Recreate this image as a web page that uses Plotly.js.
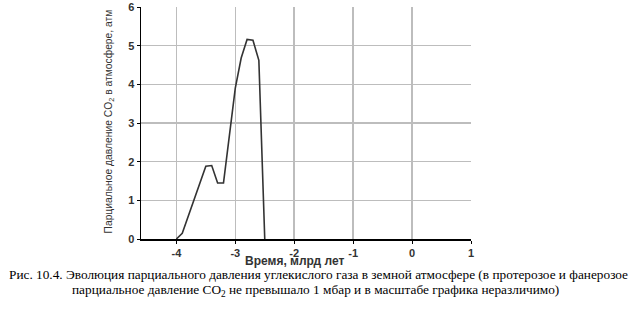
<!DOCTYPE html>
<html>
<head>
<meta charset="utf-8">
<script src="https://cdn.plot.ly/plotly-3.0.1.min.js"></script>
<style>html,body{margin:0;padding:0;background:#fff;}#chart{width:643px;height:313px;}</style>
</head>
<body>
<div id="chart"></div>
<script>
const timeGyr = [-4, -3.9, -3.5, -3.4, -3.3, -3.2, -3.0, -2.9, -2.8, -2.7, -2.6, -2.5];
const pCO2atm = [0, 0.15, 1.88, 1.9, 1.45, 1.45, 3.9, 4.68, 5.16, 5.14, 4.62, 0];
const xTicks = [-4, -3, -2, -1, 0, 1];
const yTicks = [0, 1, 2, 3, 4, 5, 6];
const xTitle = "Время, млрд лет";
const yTitle = "Парциальное давление CO<sub>2</sub> в атмосфере, атм";
const caption1 = "Рис. 10.4. Эволюция парциального давления углекислого газа в земной атмосфере (в протерозое и фанерозое";
const caption2 = "парциальное давление CO<sub>2</sub> не превышало 1 мбар и в масштабе графика неразличимо)";

const sans = "Liberation Sans, Arial, sans-serif";
const serif = "Liberation Serif, Times New Roman, serif";
const tickFont = {family: sans, size: 11, color: "#333", weight: "bold"};
const gridColor = "#bdbdbd";
const L = 141, R = 172, W = 643;
const plotW = W - L - R;

const data = [{
  x: timeGyr, y: pCO2atm, type: "scatter", mode: "lines",
  line: {color: "#333", width: 1.6}, hoverinfo: "skip"
}];

const layout = {
  width: 643, height: 313,
  margin: {l: L, r: R, t: 7, b: 74},
  paper_bgcolor: "#ffffff", plot_bgcolor: "#ffffff",
  showlegend: false,
  xaxis: {
    range: [-4.6, 1], tickmode: "array", tickvals: xTicks, ticktext: xTicks.map(String),
    showgrid: true, gridcolor: gridColor, gridwidth: 1.5,
    zeroline: false, showline: true, linecolor: "#000", linewidth: 1.5,
    ticks: "outside", ticklen: 3, tickcolor: "#000",
    tickfont: tickFont
  },
  yaxis: {
    range: [0, 6], tickmode: "array", tickvals: yTicks, ticktext: yTicks.map(String),
    showgrid: true, gridcolor: gridColor, gridwidth: 1.5,
    zeroline: false, showline: true, linecolor: "#000", linewidth: 1.5,
    ticks: "outside", ticklen: 3, tickcolor: "#000",
    tickfont: tickFont
  },
  annotations: [
    {text: xTitle, xref: "paper", yref: "paper", x: (295 - L) / plotW, y: 0, yshift: -22,
     xanchor: "center", yanchor: "middle", showarrow: false,
     font: {family: sans, size: 12, color: "#333", weight: "bold"}},
    {text: yTitle, xref: "paper", yref: "paper", x: 0, xshift: -32, y: 0.5, yshift: 1.5,
     xanchor: "center", yanchor: "middle", textangle: -90, showarrow: false,
     font: {family: sans, size: 10.3, color: "#333"}},
    {text: caption1, xref: "paper", yref: "paper", x: (318 - L) / plotW, y: 0, yshift: -35,
     xanchor: "center", yanchor: "middle", showarrow: false,
     font: {family: serif, size: 13.3, color: "#000"}},
    {text: caption2, xref: "paper", yref: "paper", x: (315 - L) / plotW, y: 0, yshift: -51,
     xanchor: "center", yanchor: "middle", showarrow: false,
     font: {family: serif, size: 13.3, color: "#000"}}
  ]
};

Plotly.newPlot("chart", data, layout, {displayModeBar: false, staticPlot: true});
</script>
</body>
</html>
